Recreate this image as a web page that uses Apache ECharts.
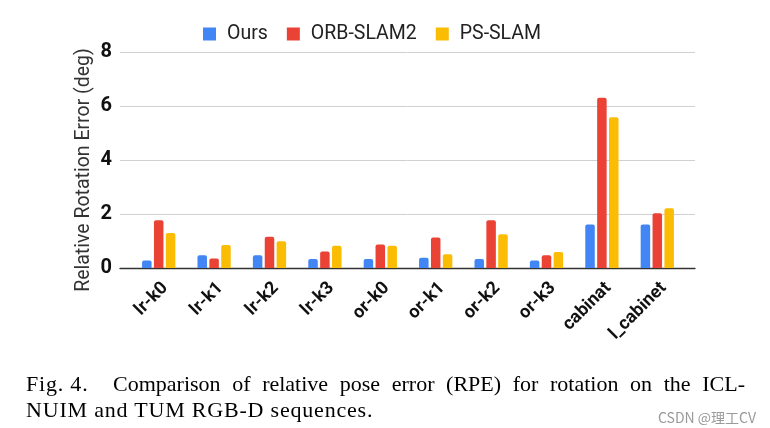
<!DOCTYPE html>
<html>
<head>
<meta charset="utf-8">
<script src="https://cdn.jsdelivr.net/npm/echarts@6/dist/echarts.min.js"></script>
<style>
html,body{margin:0;padding:0;background:#fff}
#wrap{position:relative;width:770px;height:428px;overflow:hidden}
#c{position:absolute;left:0;top:0;width:770px;height:428px}
.cap{position:absolute;font-family:"Liberation Serif","Times New Roman",serif;font-size:22px;line-height:26px;color:#000;white-space:nowrap;letter-spacing:0.8px}
#l1b{white-space:normal;text-align:justify;text-align-last:justify;letter-spacing:0}
#wm{position:absolute;left:658px;top:409px;font-family:"Noto Sans CJK SC",sans-serif;font-size:14px;line-height:16px;color:#9a9a9a;white-space:nowrap}
</style>
</head>
<body>
<div id="wrap">
<div id="c"></div>
<div class="cap" style="left:26px;top:371px">Fig. 4.</div>
<div class="cap" id="l1b" style="left:113px;top:371px;width:632px;height:26px">Comparison of relative pose error (RPE) for rotation on the ICL-</div>
<div class="cap" style="left:26px;top:397px">NUIM and TUM RGB-D sequences.</div>
<div id="wm">CSDN @理工CV</div>
</div>
<script>
const categories = ['lr-k0','lr-k1','lr-k2','lr-k3','or-k0','or-k1','or-k2','or-k3','cabinat','l_cabinet'];
const ours    = [0.28, 0.47, 0.47, 0.33, 0.33, 0.38, 0.33, 0.28, 1.61, 1.61];
const orbSlam = [1.77, 0.35, 1.16, 0.61, 0.87, 1.13, 1.77, 0.47, 6.31, 2.03];
const psSlam  = [1.30, 0.85, 0.99, 0.82, 0.82, 0.51, 1.25, 0.59, 5.58, 2.21];
const yTicks = [0, 2, 4, 6, 8];

const chart = echarts.init(document.getElementById('c'));
const barStyle = (c) => ({ color: c, borderRadius: [2, 2, 0, 0] });
chart.setOption({
  animation: false,
  legend: {
    top: 24, left: 203, padding: 0, itemWidth: 13, itemHeight: 13, itemGap: 19,
    icon: 'rect',
    textStyle: { fontFamily: 'Roboto', fontSize: 19.5, color: '#222', padding: [0, 0, 0, 6] },
    data: ['Ours', 'ORB-SLAM2', 'PS-SLAM']
  },
  grid: [
    { left: 120, right: 75, top: 52, bottom: 160 },
    { left: 131, right: 85, top: 52, bottom: 160 }
  ],
  xAxis: [
    { gridIndex: 0, type: 'category', data: categories, show: true,
      axisLine: { lineStyle: { color: '#333', width: 1.3 } },
      axisTick: { show: false }, axisLabel: { show: false } },
    { gridIndex: 1, type: 'category', data: categories,
      axisLine: { show: false }, axisTick: { show: false },
      axisLabel: { rotate: 45, margin: 11, verticalAlign: 'top', fontFamily: 'Roboto', fontWeight: 'bold', fontSize: 18, color: '#111', interval: 0 } }
  ],
  yAxis: [
    { gridIndex: 0, type: 'value', min: yTicks[0], max: yTicks[yTicks.length - 1], interval: 2,
      name: 'Relative Rotation Error (deg)', nameLocation: 'middle', nameGap: 26, nameMoveOverlap: false,
      nameTextStyle: { fontFamily: 'Roboto', fontSize: 19.5, color: '#333', padding: [0, 20, 0, 0] },
      axisLabel: { fontFamily: 'Roboto', fontWeight: 'bold', fontSize: 20, color: '#111', margin: 8 },
      axisLine: { show: false }, axisTick: { show: false },
      splitLine: { lineStyle: { color: '#d0d0d0', width: 1 } } },
    { gridIndex: 1, type: 'value', min: yTicks[0], max: yTicks[yTicks.length - 1], interval: 2, show: false,
      splitLine: { show: false } }
  ],
  series: [
    { name: 'Ours', type: 'bar', xAxisIndex: 1, yAxisIndex: 1, data: ours, barWidth: 9.5, barGap: '25%', itemStyle: barStyle('#4285F4') },
    { name: 'ORB-SLAM2', type: 'bar', xAxisIndex: 1, yAxisIndex: 1, data: orbSlam, barWidth: 9.5, barGap: '25%', itemStyle: barStyle('#EA4335') },
    { name: 'PS-SLAM', type: 'bar', xAxisIndex: 1, yAxisIndex: 1, data: psSlam, barWidth: 9.5, barGap: '25%', itemStyle: barStyle('#FBBC04') }
  ]
});
</script>
</body>
</html>
